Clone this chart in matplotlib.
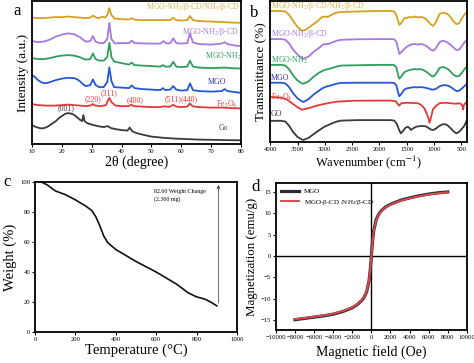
import numpy as np
import matplotlib
matplotlib.use("Agg")
import matplotlib.pyplot as plt

plt.rcParams['font.family'] = ['Liberation Serif', 'DejaVu Serif']
plt.rcParams['mathtext.fontset'] = 'stix'

# ---- (a) XRD patterns, intensity in a.u. (stacked) ----
tt_go = [10, 11, 12, 13, 14, 15, 16, 17, 18, 19, 20, 21, 22, 23, 24, 25, 26, 26.8, 27.2, 27.6,
         28.5, 30, 32, 34, 35.3, 36.5, 38, 40, 42, 42.7, 43.5, 45, 47, 50, 54, 58, 62, 66, 70, 75, 80]
i_go = [19, 17.5, 16.5, 15.7, 16, 17, 19, 21, 23, 26, 28, 30, 31, 30.5, 29.5, 27, 24.5, 23, 29, 23,
        21, 19.5, 18, 17, 18, 16, 15, 14, 13.5, 16.5, 13, 11, 9.5, 7.5, 6.3, 5.5, 5, 4.5, 4.3, 4, 3.8]

tt_fe = [10, 12, 15, 18, 20, 22, 24, 26, 28, 29.5, 30.3, 31.2, 33, 34.8, 35.3, 35.9, 36.6, 38, 40, 42.5,
         43.3, 44, 47, 50, 53, 54, 56, 57.3, 58.3, 60, 62, 62.9, 63.8, 66, 70, 74, 77, 80]
i_fe = [40, 39, 38.5, 38.5, 39, 39.5, 39, 38.5, 38, 38.5, 40, 38.5, 38, 39, 43, 46.3, 42, 38.5, 38, 38,
        39.5, 38, 37.5, 37, 37, 37.8, 37.2, 39.3, 37.5, 37, 37.5, 40.7, 37.8, 37, 36.5, 36.5, 36, 35.7]

tt_mgo = [10, 11, 12, 13, 14, 15, 16, 18, 20, 22, 24, 25, 26, 27, 28, 29.5, 30.4, 31.3, 32.5, 34,
          35.2, 35.9, 36.6, 37.5, 40, 42.5, 43.4, 44.3, 47, 50, 53, 53.8, 54.6, 56.3, 57.3, 58.3, 60, 62,
          62.9, 63.9, 66, 70, 73.5, 74.5, 75.5, 78, 80]
i_mgo = [69, 67, 64, 62, 61, 61, 62, 64, 65.5, 66.3, 66, 65, 63, 60, 58, 59, 64.7, 59, 57, 57,
         62, 76.7, 63, 57, 56.5, 56, 58.7, 56, 55, 54.5, 54, 56, 54, 54.5, 58, 54.5, 53.5, 54,
         60.7, 54, 53, 52.5, 53, 55, 53, 52, 51.3]

tt_nh2 = [10, 12, 14, 16, 18, 20, 22, 24, 26, 27, 28, 29.5, 30.4, 31.3, 32.5, 34, 35.2, 35.9, 36.6, 37.5,
          40, 42.5, 43.4, 44.3, 47, 50, 53, 53.8, 54.6, 56.3, 57.3, 58.3, 60, 62, 62.9, 63.9, 66, 70, 74.5, 78, 80]
i_nh2 = [86, 85, 85, 86, 87.5, 88.5, 89, 88.5, 87, 85.5, 84.5, 85, 90.7, 85, 83.5, 83.5, 87, 101.3, 87, 82.5,
         81, 79.5, 81.5, 79, 78.5, 78, 77.5, 79, 77.5, 77.5, 82.3, 77.5, 77, 77.5, 83.3, 77.5, 76.5, 76, 76.5, 75.7, 75.7]

tt_cd = [10, 12, 14, 16, 18, 20, 22, 24, 26, 27, 28, 29.5, 30.4, 31.3, 32.5, 34, 35.2, 35.9, 36.6, 37.7,
         40, 42.5, 43.4, 44.3, 47, 50, 53, 54, 55, 56.3, 57.3, 58.3, 60, 62, 62.9, 63.9, 66, 70, 73.5, 74.5,
         75.5, 78, 80]
i_cd = [103, 102, 102.5, 104.5, 107.5, 109.5, 110.7, 110, 107, 104.5, 102.5, 103, 108, 102.5, 101, 101, 105, 121.3, 105, 100.7,
        101, 101, 103.5, 101, 100.7, 100.5, 100.5, 103, 100.5, 101, 105.7, 101, 100.5, 101, 110.7, 101.5, 100, 99.5, 100.5, 102,
        100, 98.5, 98]

tt_cd2 = [10, 12, 14, 16, 18, 20, 22, 24, 26, 28, 29.5, 30.5, 31.5, 32.5, 33.5, 34.5, 35.2, 35.9, 36.6, 37.7,
          40, 42.5, 43.4, 44.3, 47, 50, 53, 56.3, 57.3, 58.3, 60, 62, 62.9, 63.9, 66, 70, 74, 77, 80]
i_cd2 = [126.5, 126, 126, 126.5, 127, 127, 127.5, 127, 126.5, 126, 126.5, 128.5, 126.5, 126, 127.5, 126.5, 129, 136, 129, 125.5,
         125, 124.5, 126, 124.5, 124, 124, 124, 124, 126.3, 124, 123.5, 124, 128, 124, 123, 122.5, 122, 121.5, 121.3]

# ---- (b) FTIR spectra, transmittance (stacked) ----
wn_cd2 = [4000, 3800, 3720, 3650, 3580, 3500, 3420, 3350, 3250, 3150, 3050, 2990, 2945, 2900, 2850, 2786, 2700,
          2400, 2000, 1800, 1730, 1690, 1660, 1636, 1600, 1545, 1500, 1450, 1400, 1350, 1300, 1250, 1200, 1150,
          1115, 1070, 1021, 980, 940, 900, 850, 808, 760, 716, 650, 592, 545, 500, 450, 409, 400]
t_cd2 = [132, 132, 131.5, 128, 122, 116, 112, 113, 117, 121, 126, 126.5, 126, 127.5, 129, 130.3, 131,
         131.5, 132, 132, 131.5, 128, 122, 118, 120, 124.7, 125, 126, 125.5, 126.5, 125.5, 126, 125.5, 124,
         122, 119, 117, 119.5, 124, 129, 130, 130.3, 129, 127, 122, 118.7, 119.5, 123.5, 128, 130.3, 130.5]

wn_mid = [4000, 3800, 3720, 3650, 3580, 3500, 3420, 3392, 3300, 3200, 3100, 3030, 2945, 2900, 2786, 2700, 2400,
          2000, 1800, 1730, 1690, 1660, 1636, 1600, 1545, 1500, 1450, 1400, 1350, 1300, 1250, 1200, 1150, 1100,
          1060, 1021, 980, 940, 900, 850, 800, 750, 700, 650, 592, 545, 500, 450, 409, 400]
t_cd = [103.7, 103.7, 103, 99, 93, 88, 84.5, 83.7, 86, 91, 95, 98.3, 98.7, 99.5, 102, 103, 103.5,
        103.7, 103.7, 103.5, 101, 94, 88.7, 90.5, 93.7, 96, 97.5, 98.5, 98.7, 98.2, 98.7, 98.2, 97, 95,
        93, 92, 93.5, 97, 100.5, 102, 101.5, 100, 98, 95.5, 92.7, 93, 96, 100, 102.5, 103]
t_nh2 = [77.7, 77.7, 77, 73, 67, 62, 59, 58.7, 61, 66, 70, 72, 73.5, 74, 76, 77, 77.3,
         77.7, 77.7, 77.5, 75, 68, 63.7, 66, 70.3, 71.5, 72.5, 73, 73.5, 73, 73.5, 72.5, 71, 69,
         67, 66, 67.5, 71, 74.5, 75.5, 75, 73.5, 71, 68, 66, 66.5, 69, 73, 75.5, 76]
t_mgo = [59.7, 59.7, 59, 55, 49, 44, 41, 40.3, 43, 48, 52, 54.5, 56.3, 56.8, 58.7, 59.5, 59.7,
         59.7, 59.7, 59.5, 57, 50, 46, 48.5, 52.7, 54, 54.5, 55, 55.2, 55, 55.3, 55, 54.5, 53.8,
         53, 52.7, 53.2, 54.5, 56, 57, 57.2, 56.8, 55.5, 53.5, 51.3, 51.5, 53.5, 56, 58, 58.5]

wn_fe = [4000, 3800, 3700, 3600, 3500, 3420, 3300, 3150, 3000, 2800, 2500, 2000, 1800, 1700, 1640, 1600, 1500,
         1400, 1300, 1240, 1180, 1130, 1100, 1083, 1060, 1020, 962, 900, 800, 700, 600, 540, 500, 480, 470,
         455, 430, 400]
t_fe = [45.3, 44.5, 43, 39, 35, 32.5, 34, 36.5, 38.5, 40.5, 41.5, 41.7, 41.7, 41, 36.5, 39, 39.5,
        39.3, 39, 37.5, 34, 28, 23, 19.3, 24, 33, 36.5, 39, 39.5, 39, 38.5, 39, 38, 36, 32.7,
        37, 39, 40]

wn_go = [4000, 3800, 3720, 3650, 3580, 3500, 3420, 3392, 3300, 3200, 3100, 3000, 2900, 2786, 2700, 2400, 2000,
         1800, 1730, 1680, 1640, 1610, 1570, 1520, 1483, 1450, 1422, 1390, 1330, 1250, 1180, 1145, 1100, 1060,
         1021, 980, 920, 860, 808, 760, 700, 640, 592, 545, 500, 450, 409, 400]
t_go = [21.3, 21.3, 20.5, 16, 10, 5, 2.5, 2, 4, 8, 12, 15.5, 18, 20.5, 21.5, 22, 22,
        22, 21.5, 18, 12, 8.7, 11, 14.5, 15.3, 14, 12, 13.5, 15.3, 16, 16, 15.5, 14, 12.5,
        12, 13, 15.5, 17.5, 18, 17, 14, 10.5, 8.7, 10, 12.7, 16, 21, 21.5]

# ---- (c) TGA ----
temp = [30, 60, 100, 150, 200, 250, 280, 300, 320, 340, 360, 400, 450, 500, 550, 600, 650, 700, 760, 800, 840, 870, 900]
weight = [100, 98, 94, 91.5, 88, 84, 81, 77, 71, 64, 59.5, 55, 51, 47, 43.5, 40, 36, 32, 26, 23.5, 22, 20, 17.5]

# ---- (d) VSM ----
field = [-8000, -7000, -6000, -5000, -4000, -3000, -2000, -1500, -1000, -750, -500, -250, -100, 0,
         100, 250, 500, 750, 1000, 1500, 2000, 3000, 4000, 5000, 6000, 7000, 8000]
m_mgo = [-14.9, -14.6, -14.3, -14.0, -13.6, -13.0, -12.1, -11.4, -10.4, -9.6, -8.4, -5.9, -2.9, 0,
         3.0, 6.0, 8.5, 9.7, 10.5, 11.5, 12.1, 13.0, 13.6, 14.1, 14.5, 14.8, 15.0]
m_cd = [-14.8, -14.5, -14.2, -13.9, -13.5, -12.9, -12.0, -11.3, -10.3, -9.5, -8.3, -5.8, -2.8, 0,
        2.9, 5.9, 8.4, 9.6, 10.4, 11.4, 12.0, 12.9, 13.5, 14.0, 14.4, 14.7, 14.9]

c_gold, c_purple, c_green = '#d4a21c', '#a678e0', '#2f9e5c'
c_blue, c_red, c_black = '#2357d6', '#e23a3a', '#3a3a3a'

fig = plt.figure(figsize=(4.74, 3.63), dpi=100)
ax_a = fig.add_axes([0.0675, 0.603, 0.441, 0.394])
ax_b = fig.add_axes([0.570, 0.609, 0.415, 0.388])
ax_c = fig.add_axes([0.074, 0.085, 0.426, 0.414])
ax_d = fig.add_axes([0.582, 0.091, 0.403, 0.405])

for ax in (ax_a, ax_b, ax_c, ax_d):
    for s in ax.spines.values():
        s.set_linewidth(1.3)
    ax.tick_params(labelsize=4.8, width=0.8, length=2, pad=1.5)

# (a)
lw = 1.3
ax_a.plot(tt_go, i_go, color=c_black, lw=lw)
ax_a.plot(tt_fe, i_fe, color=c_red, lw=lw)
ax_a.plot(tt_mgo, i_mgo, color=c_blue, lw=lw)
ax_a.plot(tt_nh2, i_nh2, color=c_green, lw=lw)
ax_a.plot(tt_cd, i_cd, color=c_purple, lw=lw)
ax_a.plot(tt_cd2, i_cd2, color=c_gold, lw=lw)
ax_a.set_xlim(10, 80)
ax_a.set_ylim(0, 143)
ax_a.set_yticks([])
ax_a.set_xticks(range(10, 81, 10))
ax_a.set_xlabel('2θ (degree)', fontsize=10, labelpad=1)
ax_a.set_ylabel('Intensity (a.u.)', fontsize=9.5, labelpad=2)
fs = 5.7
ax_a.text(79.5, 137, 'MGO-NH$_2$/β-CD/NH$_2$/β-CD', color='#d8b24a', fontsize=fs, ha='right', va='center')
ax_a.text(79.5, 112, 'MGO-NH$_2$/β-CD', color=c_purple, fontsize=fs, ha='right', va='center')
ax_a.text(74, 88, 'MGO-NH$_2$', color=c_green, fontsize=fs, ha='center', va='center')
ax_a.text(72, 62, 'MGO', color='#2a2ac0', fontsize=fs, ha='center', va='center')
ax_a.text(79, 40, 'Fe$_3$O$_4$', color=c_red, fontsize=fs, ha='right', va='center')
ax_a.text(74, 16, 'Go', color=c_black, fontsize=fs, ha='center', va='center')
for x, y, s, c in [(21.5, 36, '(001)', c_black), (30.5, 45, '(220)', c_red), (35.8, 51, '(311)', c_red),
                   (44.5, 44, '(400)', c_red), (57.3, 45, '(511)', c_red), (62.5, 45, '(440)', c_red)]:
    ax_a.text(x, y, s, color=c, fontsize=fs, ha='center', va='center')
fig.text(0.036, 0.97, 'a', fontsize=12, ha='center', va='center')

# (b)
ax_b.plot(wn_go, t_go, color=c_black, lw=lw)
ax_b.plot(wn_fe, t_fe, color=c_red, lw=lw)
ax_b.plot(wn_mid, t_mgo, color=c_blue, lw=lw)
ax_b.plot(wn_mid, t_nh2, color=c_green, lw=lw)
ax_b.plot(wn_mid, t_cd, color=c_purple, lw=lw)
ax_b.plot(wn_cd2, t_cd2, color=c_gold, lw=lw)
ax_b.set_xlim(4000, 400)
ax_b.set_ylim(0, 142)
ax_b.set_yticks([])
ax_b.set_xticks(range(4000, 499, -500))
ax_b.set_xlabel('Wavenumber (cm$^{-1}$)', fontsize=9, labelpad=1)
ax_b.set_ylabel('Transmittance (%)', fontsize=9.5, labelpad=2)
ax_b.text(3990, 137, 'MGO-NH$_2$/β-CD/NH$_2$/β-CD', color='#d8b24a', fontsize=fs, ha='left', va='center')
ax_b.text(3990, 109, 'MGO-NH$_2$/β-CD', color=c_purple, fontsize=fs, ha='left', va='center')
ax_b.text(3990, 82, 'MGO-NH$_2$', color=c_green, fontsize=fs, ha='left', va='center')
ax_b.text(3990, 64, 'MGO', color='#2a2ac0', fontsize=fs, ha='left', va='center')
ax_b.text(3990, 45, 'Fe$_3$O$_4$', color=c_red, fontsize=fs, ha='left', va='center')
ax_b.text(3990, 28, 'GO', color=c_black, fontsize=fs, ha='left', va='center')
fig.text(0.536, 0.965, 'b', fontsize=12, ha='center', va='center')

# (c)
ax_c.plot(temp, weight, color='#111111', lw=1.2)
ax_c.set_xlim(0, 1000)
ax_c.set_ylim(0, 100)
ax_c.set_xticks(range(0, 1001, 200))
ax_c.set_yticks(range(0, 101, 20))
ax_c.set_xlabel('Temperature (°C)', fontsize=10.5, labelpad=1)
ax_c.set_ylabel('Weight (%)', fontsize=10.5, labelpad=2)
ax_c.annotate('', xy=(908, 100), xytext=(908, weight[-1]),
              arrowprops=dict(arrowstyle='-|>', color='#555555', lw=0.6, mutation_scale=5))
ax_c.text(590, 91, '82.60 Weight Change\n(2.360 mg)', fontsize=4.3, ha='left', va='center',
          linespacing=1.4)
fig.text(0.015, 0.5, 'c', fontsize=12, ha='center', va='center')

# (d)
ax_d.axhline(0, color='black', lw=1.0)
ax_d.axvline(0, color='black', lw=1.0)
ax_d.plot(field, m_mgo, color='#2b2b3a', lw=2.3, label='MGO')
ax_d.plot(field, m_cd, color='#d84a4a', lw=1.4, label='MGO-β-CD /NH$_2$/β-CD')
ax_d.set_xlim(-10000, 10000)
ax_d.set_ylim(-17.3, 17.1)
ax_d.set_xticks(range(-10000, 10001, 2000))
ax_d.set_yticks(range(-15, 16, 5))
ax_d.set_xlabel('Magnetic field (Oe)', fontsize=10, labelpad=4)
ax_d.set_ylabel('Magnetization (emu/g)', fontsize=9.3, labelpad=2)
ax_d.legend(loc='upper left', fontsize=5, frameon=False, handlelength=2.5,
            borderaxespad=0.4, labelspacing=0.5)
fig.text(0.54, 0.485, 'd', fontsize=12, ha='center', va='center')

fig.savefig('out.png', dpi=100)
